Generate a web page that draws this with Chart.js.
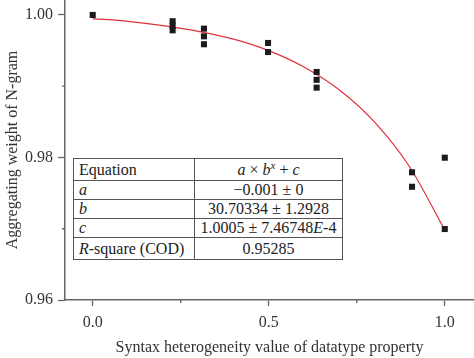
<!DOCTYPE html>
<html>
<head>
<meta charset="utf-8">
<script src="https://cdn.jsdelivr.net/npm/chart.js@4"></script>
<style>
  html, body { margin: 0; padding: 0; background: #fff; }
  #wrap { position: relative; width: 474px; height: 358px; overflow: hidden; }
  canvas { position: absolute; left: 0; top: 0; }
  #tbl {
    position: absolute; left: 73px; top: 158px; width: 270px;
    border-collapse: collapse; background: #fff;
    font-family: "Liberation Serif", "DejaVu Serif", serif; font-size: 16px; color: #222;
  }
  #tbl td { border: 1px solid #555; padding: 0 5px; line-height: 18px; height: 18px; white-space: nowrap; }
  #tbl tr:first-child td, #tbl tr:last-child td { height: 21px; }
  #tbl td.c2 { text-align: center; }
  #tbl td.c1 { width: 110px; }
</style>
</head>
<body>
<div id="wrap">
  <canvas id="c" width="474" height="358"></canvas>
  <table id="tbl">
    <tr><td class="c1">Equation</td><td class="c2"><i>a</i> × <i>b</i><sup style="font-size:11px;line-height:0"><i>x</i></sup> + <i>c</i></td></tr>
    <tr><td class="c1"><i>a</i></td><td class="c2">−0.001 ± 0</td></tr>
    <tr><td class="c1"><i>b</i></td><td class="c2">30.70334 ± 1.2928</td></tr>
    <tr><td class="c1"><i>c</i></td><td class="c2">1.0005 ± 7.46748<i>E</i>-4</td></tr>
    <tr><td class="c1"><i>R</i>-square (COD)</td><td class="c2">0.95285</td></tr>
  </table>
</div>
<script>
const pointX = [0, 0.227, 0.227, 0.227, 0.316, 0.316, 0.316, 0.498, 0.498, 0.636, 0.636, 0.636, 0.907, 0.907, 1.0, 1.0];
const pointY = [1.0000, 0.99912, 0.99848, 0.99785, 0.99808, 0.99700, 0.99589, 0.99607, 0.99480, 0.9920, 0.9909, 0.9898, 0.97792, 0.97589, 0.97997, 0.96996];
// Fitted curve
const curveX = [0, 0.1, 0.2, 0.3, 0.4, 0.5, 0.6, 0.7, 0.8, 0.9, 1.0];
const curveY = [0.9995, 0.9991, 0.9985, 0.9977, 0.9966, 0.9950, 0.9927, 0.9895, 0.9850, 0.9787, 0.9698];
// Axis ticks
const xTicks = [0, 0.25, 0.5, 0.75, 1.0];
const xLabels = {0: '0.0', 0.5: '0.5', 1: '1.0'};
const yTicks = [0.96, 0.97, 0.98, 0.99, 1.00];
const yLabels = {0.96: '0.96', 0.98: '0.98', 1: '1.00'};

const FONT = '"Liberation Serif", "DejaVu Serif", serif';
const AXIS = '#666';

const minorTicks = {
  id: 'minorTicks',
  afterDraw(chart) {
    const ctx = chart.ctx;
    const xs = chart.scales.x, ys = chart.scales.y;
    ctx.save();
    ctx.strokeStyle = AXIS;
    ctx.lineWidth = 1.3;
    ctx.beginPath();
    [0.25, 0.75].forEach(v => {
      const px = xs.getPixelForValue(v);
      ctx.moveTo(px, xs.top); ctx.lineTo(px, xs.top + 3);
    });
    [0.97, 0.99].forEach(v => {
      const py = ys.getPixelForValue(v);
      ctx.moveTo(ys.right, py); ctx.lineTo(ys.right - 3, py);
    });
    ctx.stroke();
    ctx.restore();
  }
};

function zeroPad(s) { s.paddingTop = 0; s.paddingBottom = 0; s.paddingLeft = 0; s.paddingRight = 0; }

new Chart(document.getElementById('c'), {
  type: 'scatter',
  data: {
    datasets: [
      {
        label: 'fit',
        type: 'line',
        data: curveX.map((x, i) => ({x, y: curveY[i]})),
        borderColor: '#e0303f',
        borderWidth: 1.2,
        pointRadius: 0,
        tension: 0.4,
        cubicInterpolationMode: 'monotone',
        fill: false,
        order: 2
      },
      {
        label: 'data',
        data: pointX.map((x, i) => ({x, y: pointY[i]})),
        pointStyle: 'rect',
        pointRadius: 4.3,
        backgroundColor: '#1b1b1b',
        borderColor: '#1b1b1b',
        borderWidth: 0,
        order: 1
      }
    ]
  },
  options: {
    responsive: false,
    animation: false,
    layout: { padding: 0, autoPadding: false },
    plugins: { legend: { display: false }, tooltip: { enabled: false } },
    scales: {
      x: {
        type: 'linear',
        min: -0.0787,
        max: 1.083,
        afterBuildTicks: s => { s.ticks = xTicks.map(v => ({value: v})); },
        afterFit: s => { s.height = 58; zeroPad(s); },
        border: { display: true, color: AXIS, width: 1.5 },
        grid: {
          drawOnChartArea: false, tickLength: 6, tickWidth: 1.3,
          tickColor: c => (c.tick && xLabels[c.tick.value] !== undefined) ? AXIS : 'rgba(0,0,0,0)'
        },
        ticks: {
          callback: v => xLabels[v] !== undefined ? xLabels[v] : '',
          font: { family: FONT, size: 16 }, color: '#333', padding: 7, maxRotation: 0, autoSkip: false
        },
        title: {
          display: true, text: 'Syntax heterogeneity value of datatype property',
          font: { family: FONT, size: 16 }, color: '#333', padding: { top: 0, bottom: 1 }
        }
      },
      y: {
        type: 'linear',
        min: 0.96,
        max: 1.0021,
        afterBuildTicks: s => { s.ticks = yTicks.map(v => ({value: v})); },
        afterFit: s => { s.width = 65; zeroPad(s); },
        border: { display: true, color: AXIS, width: 1.5 },
        grid: {
          drawOnChartArea: false, tickLength: 7, tickWidth: 1.3,
          tickColor: c => (c.tick && yLabels[Math.round(c.tick.value * 100) / 100] !== undefined) ? AXIS : 'rgba(0,0,0,0)'
        },
        ticks: {
          callback: v => { const k = Math.round(v * 100) / 100; return yLabels[k] !== undefined ? yLabels[k] : ''; },
          font: { family: FONT, size: 16 }, color: '#333', padding: 5, autoSkip: false
        },
        title: {
          display: true, text: 'Aggregating weight of N-gram',
          font: { family: FONT, size: 16 }, color: '#333', padding: { top: 3, bottom: 0 }
        }
      }
    }
  },
  plugins: [minorTicks]
});
</script>
</body>
</html>
